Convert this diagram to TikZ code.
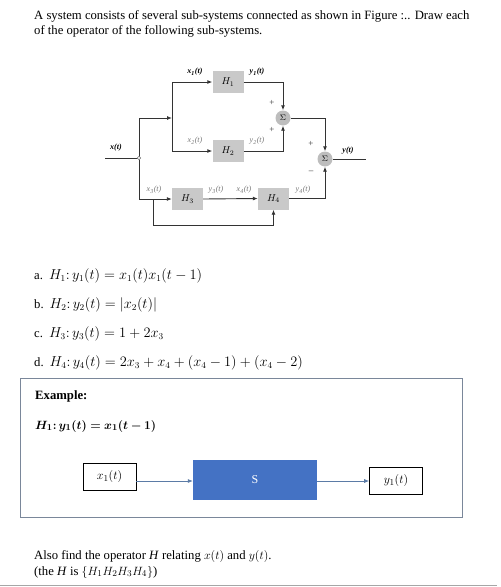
\documentclass[tikz,border=0pt]{standalone}
\usepackage{bm}
\usepackage{fontspec}
\setmainfont{Liberation Serif}
\usetikzlibrary{arrows.meta}
\definecolor{blkgray}{HTML}{C9C9C9}
\definecolor{sumgray}{HTML}{BDBDBD}
\definecolor{wire}{HTML}{333333}
\definecolor{lbl}{HTML}{777777}
\definecolor{sblue}{HTML}{4472C4}
\definecolor{exframe}{HTML}{7A879A}
\definecolor{exarrow}{HTML}{5B7BA6}
\newcommand{\bigmath}[1]{{\fontsize{13.3}{15}\selectfont$#1$}}
\tikzset{
  blk/.style={fill=blkgray, minimum width=31pt, minimum height=22pt, inner sep=0pt, font=\fontsize{10}{12}\selectfont},
  sumnode/.style={circle, fill=sumgray, minimum size=15pt, inner sep=0pt, font=\fontsize{8}{9}\selectfont},
  wire/.style={draw=wire, line width=0.9pt},
  arr/.style={wire, -{Latex[length=5pt,width=4pt]}},
  dlab/.style={font=\fontsize{8}{9}\selectfont\itshape, text=lbl, inner sep=1pt},
  dlabb/.style={font=\fontsize{8}{9}\selectfont\bfseries\itshape, text=black, inner sep=1pt},
  sgn/.style={font=\fontsize{9}{10}\selectfont, text=wire, inner sep=0pt},
  body/.style={font=\fontsize{12.7}{14}\selectfont, anchor=base west, inner sep=0pt},
  bodyb/.style={font=\fontsize{12.7}{14}\selectfont\bfseries, anchor=base west, inner sep=0pt},
  exbox/.style={draw=black, line width=0.6pt, minimum width=53pt, minimum height=27pt, inner sep=0pt, font=\fontsize{12.7}{14}\selectfont},
  exarr/.style={draw=exarrow, line width=0.7pt, -{Latex[length=5pt,width=4pt]}}
}
\begin{document}
\begin{tikzpicture}[x=1pt,y=-1pt]
\useasboundingbox (0,0) rectangle (501,587);
% heading
\node[body] (t1) at (34,19) {A system consists of several sub-systems connected as shown in Figure :.. Draw each};
\node[body] (t2) at (34,34) {of the operator of the following sub-systems.};
% block diagram
\node[blk] (h1) at (228,82) {$H_1$};
\node[blk] (h2) at (228,151) {$H_2$};
\node[blk] (h3) at (187.5,199) {$H_3$};
\node[blk] (h4) at (273.5,198.5) {$H_4$};
\node[sumnode] (s1) at (283,118) {$\Sigma$};
\node[sumnode] (s2) at (325,159) {$\Sigma$};
\coordinate (xin) at (105,158);
\coordinate (jn) at (139,158);
\coordinate (jt) at (139,118);
\coordinate (jb) at (139,199);
\coordinate (vt) at (172,82);
\coordinate (vm) at (172,118);
\coordinate (vb) at (172,151);
\coordinate (fb) at (153,199);
\coordinate (yout) at (366,159);
\draw[wire] (xin) -- (jn);
\draw[wire] (jt) -- (jb);
\draw[arr] (jt) -- (vm);
\draw[wire] (vt) -- (vb);
\draw[arr] (vt) -- (h1.west);
\draw[arr] (vb) -- (h2.west);
\draw[arr] (h1.east) -| (s1.north);
\draw[arr] (h2.east) -| (s1.south);
\draw[arr] (s1.east) -| (s2.north);
\draw[wire] (s2.east) -- (yout);
\draw[arr] (jb) -- (h3.west);
\draw[arr] (h3.east) -- (h4.west);
\draw[arr] (h4.east) -| (s2.south);
\draw[arr] (fb) -- ++(0,26) -| (h4.south);
\node[circle, draw=lbl, fill=white, line width=0.4pt, minimum size=3.5pt, inner sep=0pt] (jc) at (jn) {};
% diagram labels
\node[dlabb] (lx) at (116,148) {x(t)};
\node[dlabb] (lx1) at (195,72) {x\textsubscript{1}(t)};
\node[dlabb] (ly1) at (257,72) {y\textsubscript{1}(t)};
\node[dlab] (lx2) at (195,141) {x\textsubscript{2}(t)};
\node[dlab] (ly2) at (257,141) {y\textsubscript{2}(t)};
\node[dlab] (lx3) at (154,190) {x\textsubscript{3}(t)};
\node[dlab] (ly3) at (216,190) {y\textsubscript{3}(t)};
\node[dlab] (lx4) at (244,190) {x\textsubscript{4}(t)};
\node[dlab] (ly4) at (303,190) {y\textsubscript{4}(t)};
\node[dlabb] (ly) at (348,151) {y(t)};
\node[sgn] (p1) at (272,103) {+};
\node[sgn] (p2) at (272,130) {+};
\node[sgn] (p3) at (311,144) {+};
\node[sgn] (m1) at (311,172) {--};
% equations
\node[body] (ea) at (34,279) {a.\hspace{6pt}\bigmath{H_1\colon y_1(t) = x_1(t)x_1(t-1)}};
\node[body] (eb) at (34,308) {b.\hspace{6pt}\bigmath{H_2\colon y_2(t) = |x_2(t)|}};
\node[body] (ec) at (34,337) {c.\hspace{6pt}\bigmath{H_3\colon y_3(t) = 1 + 2x_3}};
\node[body] (ed) at (34,366) {d.\hspace{6pt}\bigmath{H_4\colon y_4(t) = 2x_3 + x_4 + (x_4-1) + (x_4-2)}};
% example frame
\draw[draw=exframe, line width=0.9pt] (20,378) rectangle (462,517);
\node[bodyb] (ex) at (35,399) {Example:};
\node[body] (exeq) at (35,429) {$\bm{H_1\colon y_1(t) = x_1(t-1)}$};
\node[exbox] (bx) at (109.5,476.5) {$x_1(t)$};
\node[fill=sblue, minimum width=124pt, minimum height=40pt, inner sep=0pt, text=white, font=\fontsize{12}{14}\selectfont] (bs) at (255,480) {S};
\node[exbox] (by) at (396,480.5) {$y_1(t)$};
\coordinate (ay) at (0,481);
\draw[exarr] (bx.east |- ay) -- (bs.west |- ay);
\draw[exarr] (bs.east |- ay) -- (by.west |- ay);
% closing text
\node[body] (c1) at (34,559) {Also find the operator \textit{H} relating $x(t)$ and $y(t)$.};
\node[body] (c2) at (34,575) {(the \textit{H} is $\{H_1H_2H_3H_4\}$)};
\coordinate (bl) at (0,585.5);
\coordinate (br) at (497,585.5);
\draw[draw=gray!70, line width=1pt] (bl) -- (br);
\end{tikzpicture}
\end{document}
